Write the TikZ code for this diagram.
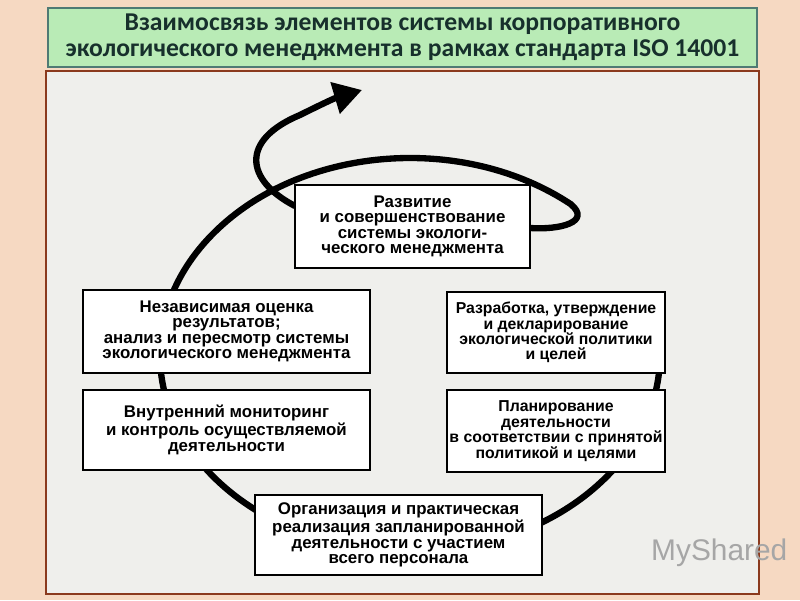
\documentclass[tikz,border=0pt]{standalone}
\usepackage{fontspec}
\setmainfont{Liberation Sans}
\newfontfamily\titlefont{Carlito}
\usetikzlibrary{arrows.meta}
\usetikzlibrary{positioning}
\definecolor{pagebg}{HTML}{F6D9C2}
\definecolor{panelbg}{HTML}{EFEFEC}
\definecolor{panelline}{HTML}{8B3A1E}
\definecolor{titlebg}{HTML}{B9EBB6}
\definecolor{titleline}{HTML}{4F7A74}
\definecolor{titletext}{HTML}{17302C}
\tikzset{stage box/.style={draw,
                           line width=1.1pt,
                           fill=white,
                           align=center,
                           inner sep=0pt,
                           font=\bfseries\fontsize{9.6}{8.8}\selectfont}}
\tikzset{cycle line/.style={draw,
                            line width=3.6pt}}
\begin{document}
\begin{tikzpicture}[x=0.02cm,y=-0.02cm]
      % background
      \fill [pagebg] (0,0) rectangle (800,600);
      \useasboundingbox (0,0) rectangle (800,600);
      \node [draw=titleline,line width=1.2pt,fill=titlebg,minimum width=709*0.02cm,
      minimum height=55*0.02cm,align=center,text=titletext,
      font=\titlefont\bfseries\fontsize{14.6}{15}\selectfont] (title) at (402.5,37.5)
      {Взаимосвязь элементов системы корпоративного\\экологического менеджмента в рамках стандарта ISO 14001};
      \filldraw [fill=panelbg,draw=panelline,line width=1.6pt] (46,71) rectangle (759,594);

      % cycle
      \path [cycle line] (530,228) .. controls (560,230) and (592,222) .. ({410+250*cos(50)},{355-197*sin(50)})
      arc [start angle=50,end angle=375,x radius=250*0.02cm,y radius=197*0.02cm];
      \draw [cycle line,-{Triangle[length=16pt,width=18pt]}] (295,206) .. controls (245,180) and (240,140) .. (300,115)
      .. controls (320,105) and (335,98) .. (362,90);

      % stages
      \node [stage box,minimum width=235*0.02cm,minimum height=83*0.02cm] (develop) at (412.5,226.5)
      {Развитие\\и совершенствование\\системы экологи-\\ческого менеджмента};
      \node [stage box,minimum width=287*0.02cm,minimum height=83*0.02cm] (review) at (226.5,331.5)
      {Независимая оценка\\результатов;\\анализ и пересмотр системы\\экологического менеджмента};
      \node [stage box,minimum width=287*0.02cm,minimum height=80*0.02cm] (monitor) at (226.5,430)
      {Внутренний мониторинг\\и контроль осуществляемой\\деятельности};
      \node [stage box,minimum width=218*0.02cm,minimum height=81*0.02cm,
      font=\bfseries\fontsize{9}{8.8}\selectfont] (policy) at (556,332.5)
      {Разработка, утверждение\\и декларирование\\экологической политики\\и целей};
      \node [stage box,minimum width=218*0.02cm,minimum height=82*0.02cm,
      font=\bfseries\fontsize{9}{8.8}\selectfont] (plan) at (556,431)
      {Планирование\\деятельности\\в соответствии с принятой\\политикой и целями};
      \node [stage box,minimum width=287*0.02cm,minimum height=80*0.02cm] (realize) at (398.5,535)
      {Организация и практическая\\реализация запланированной\\деятельности с участием\\всего персонала};

      \node [text=gray!70,font=\fontsize{17}{17}\selectfont,anchor=west] (mark) at (645,553) {MyShared};
\end{tikzpicture}
\end{document}
